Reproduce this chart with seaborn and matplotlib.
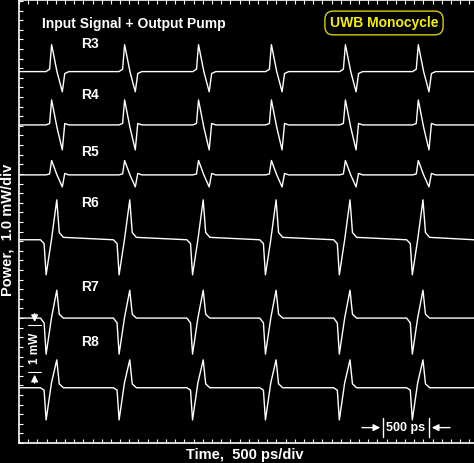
import numpy as np
import pandas as pd
import matplotlib
matplotlib.use("Agg")
import matplotlib.pyplot as plt
import seaborn as sns

sns.set_style("dark")
plt.rcParams['font.family'] = ['Liberation Sans', 'DejaVu Sans']

# ---- data (time in ps, power in mW) ----
traces = ["R3", "R4", "R5", "R6", "R7", "R8"]
baselines = [7.73, 6.62, 5.58, 4.23, 2.60, 1.15]
pulse_times_a = [413, 1207, 2011, 2804, 3609, 4402]   # R3-R5
pulse_times_b = [353, 1147, 1946, 2739, 3543, 4337]   # R6-R8
offsets = [-120, -80, -58, 0, 58, 85, 130]
shape_R3 = [0, 0.05, 0.56, 0.0, -0.42, -0.04, 0]
shape_R4 = [0, 0.03, 0.52, -0.05, -0.52, 0.03, 0]
shape_R5 = [0, 0.02, 0.30, 0.0, -0.25, 0.03, 0]
shape_R6 = [0, -0.08, -0.73, 0.0, 0.83, 0.15, 0.05]
shape_R7 = [0, -0.10, -0.75, 0.0, 0.58, 0.08, 0]
shape_R8 = [0, -0.05, -0.67, 0.10, 0.58, 0.08, 0]
shapes = [shape_R3, shape_R4, shape_R5, shape_R6, shape_R7, shape_R8]
label_y = [8.30, 7.25, 6.05, 5.00, 3.25, 2.10]
t_end = 4950

rows = []
for i, name in enumerate(traces):
    pts = pulse_times_a if i < 3 else pulse_times_b
    rows.append((name, 0, baselines[i]))
    for p in pts:
        for o, v in zip(offsets, shapes[i]):
            rows.append((name, p + o, baselines[i] + v))
    rows.append((name, t_end, baselines[i]))
df = pd.DataFrame(rows, columns=["trace", "t", "p"])

fig = plt.figure(figsize=(4.74, 4.63), dpi=100, facecolor="black")
ax = fig.add_axes([19/474, 20/463, 1 - 19/474, 443/463])
ax.set_facecolor("black")
for name in traces:
    sub = df[df.trace == name]
    sns.lineplot(data=sub, x="t", y="p", ax=ax, color="white", lw=1.0,
                 sort=False, estimator=None)
ax.set_xlim(0, t_end)
ax.set_ylim(0, 9.22)
ax.grid(False)
for s in ["top", "bottom", "left"]:
    ax.spines[s].set_color("white")
    ax.spines[s].set_linewidth(1.2)
ax.spines["right"].set_visible(False)
ax.set_xticks(np.arange(0, t_end, 100))
ax.set_yticks(np.arange(0, 9.22, 0.2))
ax.tick_params(direction="in", colors="white", length=3, width=0.8,
               top=True, bottom=True, left=True, right=False,
               labelbottom=False, labelleft=False)
ax.set_xlabel("")
ax.set_ylabel("")

fig.text(245/474, 1 - 455/463, "Time,  500 ps/div", color="white",
         fontsize=10.5, fontweight="bold", ha="center", va="center")
fig.text(8/474, 1 - 230/463, "Power,  1.0 mW/div", color="white",
         fontsize=10.5, fontweight="bold", ha="center", va="center", rotation=90)
fig.text(42/474, 1 - 24/463, "Input Signal + Output Pump", color="white",
         fontsize=10, fontweight="bold", ha="left", va="center")
fig.text(384/474, 1 - 23/463, "UWB Monocycle", color="#f5f000",
         fontsize=10, fontweight="bold", ha="center", va="center",
         bbox=dict(boxstyle="round,pad=0.35,rounding_size=0.6",
                   fc="black", ec="#d8d000", lw=1))
for name, ly in zip(traces, label_y):
    ax.text(680, ly, name, color="white", fontsize=10, fontweight="bold",
            ha="left", va="center")

# 1 mW marker
mx = 170
ax.text(mx, 1.97, "1 mW", color="white", fontsize=8.5, fontweight="bold",
        rotation=90, ha="center", va="center")
ax.annotate("", xy=(mx, 2.46), xytext=(mx, 2.75),
            arrowprops=dict(arrowstyle="-|>", color="white", lw=1))
ax.annotate("", xy=(mx, 1.48), xytext=(mx, 1.19),
            arrowprops=dict(arrowstyle="-|>", color="white", lw=1))
ax.plot([mx - 70, mx + 70], [2.46, 2.46], color="white", lw=0.8)
ax.plot([mx - 70, mx + 70], [1.48, 1.48], color="white", lw=0.8)

# 500 ps marker
yy = 0.32
ax.annotate("", xy=(3960, yy), xytext=(3700, yy),
            arrowprops=dict(arrowstyle="-|>", color="white", lw=1))
ax.annotate("", xy=(4460, yy), xytext=(4720, yy),
            arrowprops=dict(arrowstyle="-|>", color="white", lw=1))
ax.plot([3960, 3960], [yy - 0.2, yy + 0.2], color="white", lw=1)
ax.plot([4460, 4460], [yy - 0.2, yy + 0.2], color="white", lw=1)
ax.text(4210, yy, "500 ps", color="white", fontsize=9, fontweight="bold",
        ha="center", va="center")

fig.savefig("out.png", dpi=100, facecolor="black")
